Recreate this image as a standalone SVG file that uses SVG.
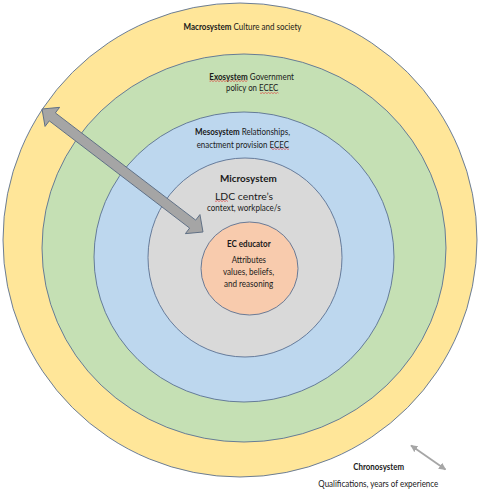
<svg xmlns="http://www.w3.org/2000/svg" width="480" height="490" viewBox="0 0 480 490">
<style>
.ring{stroke:#5a7192;stroke-width:0.9}
.t{font-family:Lato,"Liberation Sans",sans-serif;font-size:8.8px;fill:#1a1a1a}
.b{font-weight:bold}
.sq{fill:url(#sq)}
</style>
<defs>
<pattern id="sq" width="3" height="2" patternUnits="userSpaceOnUse"><path d="M0,1.6 L1.5,0.4 L3,1.6" stroke="#e02a2a" stroke-width="0.6" fill="none"/></pattern>
<marker id="ah" viewBox="0 0 10 10" refX="9" refY="5" markerWidth="4" markerHeight="4" orient="auto-start-reverse"><path d="M0,0 L10,5 L0,10 Z" fill="#a6a6a6"/></marker>
</defs>
<rect width="480" height="490" fill="#ffffff"/>
<g id="macrosystem">
<ellipse class="ring" cx="240" cy="240" rx="237" ry="237" fill="#ffe699"/>
<text class="t" x="183.5" y="30" textLength="118" lengthAdjust="spacingAndGlyphs"><tspan class="b">Macrosystem</tspan> Culture and society</text>
</g>
<g id="exosystem">
<ellipse class="ring" cx="244" cy="248" rx="202" ry="194" fill="#c5e0b4"/>
<text class="t" x="209.3" y="79.5" textLength="84.7" lengthAdjust="spacingAndGlyphs"><tspan class="b">Exosystem</tspan> Government</text>
<text class="t" x="226" y="90.5" textLength="52.3" lengthAdjust="spacingAndGlyphs">policy on ECEC</text>
<rect class="sq" x="209.5" y="80" width="38" height="2"/>
<rect class="sq" x="260" y="92" width="18.5" height="2"/>
</g>
<g id="mesosystem">
<ellipse class="ring" cx="244" cy="257" rx="150" ry="145" fill="#bdd7ee"/>
<text class="t" x="195" y="135" textLength="95" lengthAdjust="spacingAndGlyphs"><tspan class="b">Mesosystem</tspan> Relationships,</text>
<text class="t" x="196.7" y="147.5" textLength="92.3" lengthAdjust="spacingAndGlyphs">enactment provision ECEC</text>
<rect class="sq" x="271" y="148" width="18" height="2"/>
</g>
<g id="microsystem">
<ellipse class="ring" cx="245" cy="257.5" rx="97" ry="99.5" fill="#d9d9d9"/>
<text class="t b" x="220" y="182" textLength="56.7" lengthAdjust="spacingAndGlyphs">Microsystem</text>
<text class="t" x="215" y="199.5" textLength="58" lengthAdjust="spacingAndGlyphs">LDC centre’s</text>
<text class="t" x="207" y="210.5" textLength="73.7" lengthAdjust="spacingAndGlyphs">context, workplace/s</text>
<rect class="sq" x="215" y="200" width="13" height="2"/>
</g>
<g id="ec-educator">
<ellipse class="ring" cx="249.5" cy="268.5" rx="48.5" ry="46.5" fill="#f8cbad"/>
<text class="t b" x="227" y="246.5" textLength="43.7" lengthAdjust="spacingAndGlyphs">EC educator</text>
<text class="t" x="231.7" y="263" textLength="34.3" lengthAdjust="spacingAndGlyphs">Attributes</text>
<text class="t" x="223" y="274.5" textLength="51" lengthAdjust="spacingAndGlyphs">values, beliefs,</text>
<text class="t" x="224" y="286.5" textLength="49.3" lengthAdjust="spacingAndGlyphs">and reasoning</text>
</g>
<g id="chronosystem">
<text class="t b" x="353.3" y="470" textLength="50.7" lengthAdjust="spacingAndGlyphs">Chronosystem</text>
<text class="t" x="318.3" y="487" textLength="120" lengthAdjust="spacingAndGlyphs">Qualifications, years of experience</text>
</g>
<g id="connectors">
<polygon transform="translate(42,109) rotate(37.38)" points="0,0 13,-12 13,-5 189.6,-5 189.6,-12 202.6,0 189.6,12 189.6,5 13,5 13,12" fill="#a5a5a5" stroke="#5f6f85" stroke-width="0.9" stroke-linejoin="miter"/>
<line x1="411" y1="445.5" x2="445.5" y2="469.5" stroke="#a6a6a6" stroke-width="1.8" marker-start="url(#ah)" marker-end="url(#ah)"/>
</g>
</svg>
